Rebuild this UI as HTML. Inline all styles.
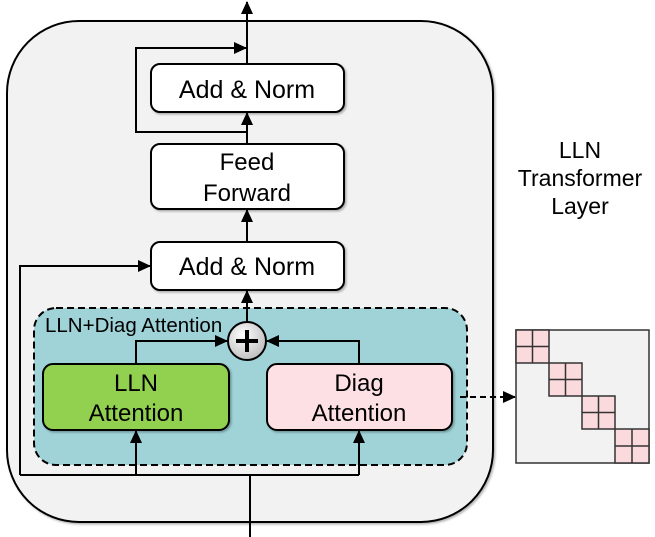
<!DOCTYPE html>
<html><head><style>body{margin:0;background:#fff}svg{display:block}</style></head><body>
<svg width="655" height="537" viewBox="0 0 655 537" xmlns="http://www.w3.org/2000/svg" font-family="Liberation Sans, sans-serif">
<defs>
<marker id="a" markerWidth="13" markerHeight="12" refX="12" refY="6" orient="auto" markerUnits="userSpaceOnUse"><path d="M0,0 L13,6 L0,12 z" fill="#000"/></marker>
<filter id="s" x="-10%" y="-10%" width="130%" height="130%"><feDropShadow dx="1.5" dy="1.5" stdDeviation="1" flood-color="#000" flood-opacity="0.3"/></filter>
</defs>
<rect x="7" y="21" width="486" height="501" rx="72" fill="#f2f2f2" stroke="#000" stroke-width="2" filter="url(#s)"/>
<text text-anchor="middle" font-size="23" fill="#000"><tspan x="580" y="158">LLN</tspan><tspan x="580" y="186">Transformer</tspan><tspan x="580" y="214">Layer</tspan></text>
<line x1="247" y1="64" x2="247" y2="2" stroke="#000" stroke-width="2" marker-end="url(#a)"/>
<polyline points="247,132 136,132 136,48 246,48" fill="none" stroke="#000" stroke-width="2" marker-end="url(#a)"/>
<rect x="151" y="64" width="193" height="48" rx="9" fill="#fff" stroke="#000" stroke-width="2" filter="url(#s)"/>
<text x="247" y="98" text-anchor="middle" font-size="25">Add &amp; Norm</text>
<line x1="247" y1="144" x2="247" y2="113" stroke="#000" stroke-width="2" marker-end="url(#a)"/>
<rect x="151" y="144" width="193" height="65" rx="9" fill="#fff" stroke="#000" stroke-width="2" filter="url(#s)"/>
<text text-anchor="middle" font-size="24"><tspan x="247" y="170">Feed</tspan><tspan x="247" y="201">Forward</tspan></text>
<line x1="247" y1="242" x2="247" y2="210" stroke="#000" stroke-width="2" marker-end="url(#a)"/>
<rect x="151" y="242" width="193" height="48" rx="9" fill="#fff" stroke="#000" stroke-width="2" filter="url(#s)"/>
<text x="247" y="275" text-anchor="middle" font-size="25">Add &amp; Norm</text>
<rect x="34" y="308" width="433" height="157" rx="22" fill="#9fd3d8" stroke="#000" stroke-width="2" stroke-dasharray="7,4"/>
<text x="45" y="332" font-size="20.5">LLN+Diag Attention</text>
<line x1="247" y1="322" x2="247" y2="291" stroke="#000" stroke-width="2" marker-end="url(#a)"/>
<polyline points="136,364 136,341 227,341" fill="none" stroke="#000" stroke-width="2" marker-end="url(#a)"/>
<polyline points="359,364 359,341 267,341" fill="none" stroke="#000" stroke-width="2" marker-end="url(#a)"/>
<defs><radialGradient id="g" cx="40%" cy="35%" r="70%"><stop offset="0" stop-color="#fff"/><stop offset="1" stop-color="#bbb"/></radialGradient></defs>
<circle cx="247" cy="341" r="19" fill="url(#g)" stroke="#000" stroke-width="2"/>
<path d="M247,330 V352 M236,341 H258" stroke="#000" stroke-width="4"/>
<rect x="43" y="364" width="186" height="66" rx="10" fill="#92d050" stroke="#000" stroke-width="2" filter="url(#s)"/>
<text text-anchor="middle" font-size="24"><tspan x="136" y="391">LLN</tspan><tspan x="136" y="421">Attention</tspan></text>
<rect x="267" y="364" width="185" height="66" rx="10" fill="#fce0e3" stroke="#000" stroke-width="2" filter="url(#s)"/>
<text text-anchor="middle" font-size="24"><tspan x="359" y="391">Diag</tspan><tspan x="359" y="421">Attention</tspan></text>
<line x1="250" y1="537" x2="250" y2="475" stroke="#000" stroke-width="2"/>
<polyline points="20,475 359,475" fill="none" stroke="#000" stroke-width="2"/>
<line x1="136" y1="475" x2="136" y2="431" stroke="#000" stroke-width="2" marker-end="url(#a)"/>
<line x1="359" y1="475" x2="359" y2="431" stroke="#000" stroke-width="2" marker-end="url(#a)"/>
<polyline points="20,475 20,266 150,266" fill="none" stroke="#000" stroke-width="2" marker-end="url(#a)"/>
<line x1="460" y1="397" x2="515" y2="397" stroke="#000" stroke-width="2" stroke-dasharray="6,4" marker-end="url(#a)"/>
<rect x="516" y="330" width="133" height="133" fill="#f2f2f2" stroke="#333" stroke-width="1.5"/>
<g fill="#fadadd" stroke="#333" stroke-width="1.5">
<rect x="516" y="330" width="33" height="33"/><rect x="549" y="363" width="33" height="33"/><rect x="582" y="396" width="33" height="33"/><rect x="615" y="429" width="34" height="34"/>
</g>
<path d="M532.5,330V363M516,346.5H549M565.5,363V396M549,379.5H582M598.5,396V429M582,412.5H615M632,429V463M615,446H649" stroke="#333" stroke-width="1.5"/>
</svg>
</body></html>
